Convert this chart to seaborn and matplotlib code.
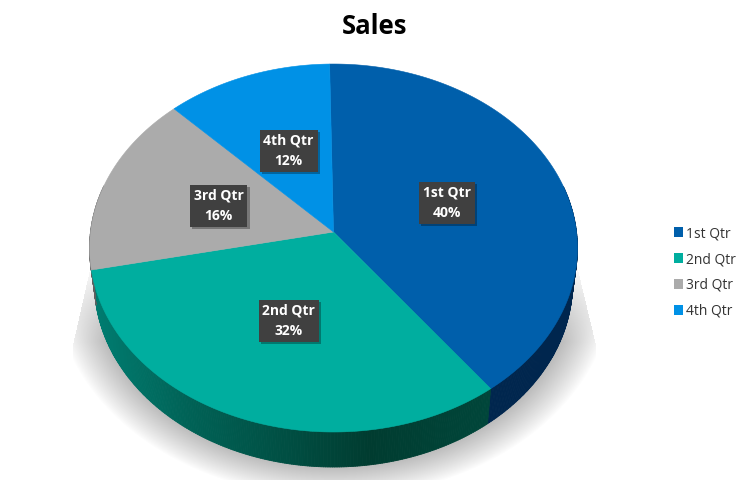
import numpy as np
import matplotlib
matplotlib.use("Agg")
import matplotlib.pyplot as plt
import matplotlib.patheffects as pe
from matplotlib.collections import PolyCollection
from matplotlib.patches import Patch, Polygon
import seaborn as sns

# Data
categories = ["1st Qtr", "2nd Qtr", "3rd Qtr", "4th Qtr"]
sales = [40, 32, 16, 12]
title = "Sales"

# Style
top_colors = sns.color_palette(["#005FAB", "#00AE9F", "#ABABAB", "#0091E6"])
sns.set_theme(style="white")
plt.rcParams["font.family"] = ["Open Sans", "DejaVu Sans"]

# Perspective of the tilted disc, in pixels
APEX_X, APEX_Y = 333.5, 232.0
RX, RY, K = 243.0, 182.6, 0.087
DEPTH, BOTTOM_SCALE = 35.0, 0.98


def project(theta_deg, r=1.0):
    t = np.radians(theta_deg)
    x, y = r * np.cos(t), r * np.sin(t)
    den = 1 + K * y
    return APEX_X + RX * x / den, APEX_Y - RY * y / den


fig = plt.figure(figsize=(7.49, 5.0), dpi=100, facecolor="white")
ax = fig.add_axes([0, 0, 1, 1])
wedges, _ = ax.pie(sales, colors=top_colors, startangle=91, counterclock=False)
for w in wedges:
    w.set_visible(False)
ax.set_aspect("auto")

# Soft ground shadow, narrowing towards the top like a cone
yy, xx = np.mgrid[0:500, 0:749] + 0.5
d = np.sqrt(((xx - 334) / 240) ** 2 + ((yy - 283) / 184) ** 2) - 1
strength = np.clip(1 - d / 0.165, 0, 1) ** 0.9
strength *= np.clip((yy - 262) / 80, 0, 1)
strength[yy > 480] = 0
spread = np.clip((yy - 270) / 75, 0, 1)
strength[(xx < 90 - 17 * spread) | (xx > 578 + 18 * spread)] = 0
img = np.ones((500, 749, 4))
img[..., :3] = 0.74
img[..., 3] = strength
ax.imshow(img, extent=(0, 749, 500, 0), aspect="auto", zorder=1, interpolation="bilinear")

# Extruded rim and top faces, built from the angles the pie computed
side_base = {0: (0, 38, 78), 1: None, 2: (95, 95, 95), 3: (0, 70, 130)}
for i, w in enumerate(wedges):
    lo, hi = min(w.theta1, w.theta2), max(w.theta1, w.theta2)
    th = np.linspace(lo, hi, max(int((hi - lo) * 2), 8))
    px, py = project(th)
    quads, cols = [], []
    for j in range(len(th) - 1):
        if np.sin(np.radians(th[j])) > 0.25 and np.sin(np.radians(th[j + 1])) > 0.25:
            continue
        bx = 334 + (px[j:j + 2] - 334) * BOTTOM_SCALE
        by = py[j:j + 2] + DEPTH
        quads.append([(px[j], py[j]), (px[j + 1], py[j + 1]), (bx[1], by[1]), (bx[0], by[0])])
        xm = px[j:j + 2].mean()
        if i == 1:
            g = np.interp(xm, [95, 190, 290, 370, 490], [124, 98, 78, 60, 70])
            cols.append((0, g / 255, (g - 12) / 255))
        else:
            cols.append(tuple(c / 255 for c in side_base[i]))
    if quads:
        ax.add_collection(PolyCollection(quads, facecolors=cols, edgecolors=cols,
                                         linewidths=0.6, zorder=2))
    ax.add_patch(Polygon(np.column_stack([np.r_[APEX_X, px], np.r_[APEX_Y, py]]),
                         closed=True, facecolor=top_colors[i], edgecolor=top_colors[i],
                         linewidth=0.4, zorder=3))

# Labels on dark boxes
total = sum(sales)
for w, name, val in zip(wedges, categories, sales):
    mid = (w.theta1 + w.theta2) / 2
    lx, ly = project(mid, 0.5)
    t = ax.text(lx, ly, f"{name}\n{val / total:.0%}", color="white", fontsize=10,
                fontweight="bold", ha="center", va="center", linespacing=1.6, zorder=5,
                bbox=dict(boxstyle="square,pad=0.27", facecolor="#404040", edgecolor="none"))
    t.get_bbox_patch().set_path_effects(
        [pe.SimplePatchShadow(offset=(1.5, -1.5), shadow_rgbFace="black", alpha=0.3), pe.Normal()])

ax.set_xlim(0, 749)
ax.set_ylim(500, 0)
ax.axis("off")

ax.text(374.5, 27, title, fontsize=18.5, fontweight="bold", color="black",
        ha="center", va="center", zorder=6)

handles = [Patch(facecolor=c, edgecolor="none") for c in top_colors]
ax.legend(handles, categories, loc="center left", bbox_to_anchor=(674 / 749, 1 - 272.5 / 500),
          bbox_transform=fig.transFigure, frameon=False, fontsize=10,
          handlelength=0.68, handleheight=0.68, handletextpad=0.22, labelspacing=0.79,
          borderpad=0, borderaxespad=0, labelcolor="#333333")

fig.savefig("out.png", dpi=100, facecolor="white")
